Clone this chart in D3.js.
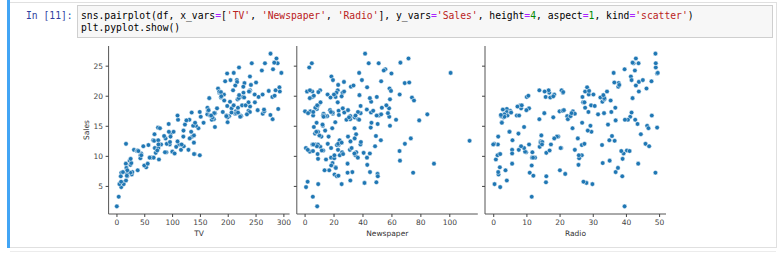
<meta charset="utf-8">
<html>
  <head>
    <style>
      body { margin: 0; background: #fff; }
      .tick text { font-family: "DejaVu Sans", sans-serif; font-size: 7.5px; fill: #444; }
      .tick line { stroke: #444; }
      .domain { stroke: #555; }
      .axisLabel { font-family: "DejaVu Sans", sans-serif; font-size: 7.5px; fill: #333; }
      .code { font-family: "DejaVu Sans Mono", monospace; font-size: 9.7px; white-space: pre; }
    </style>
  </head>
<script src="https://d3js.org/d3.v7.min.js"></script>
<div id="my_dataviz"></div>
<script>

// Advertising data (200 rows)
var tv = [230.1,44.5,17.2,151.5,180.8,8.7,57.5,120.2,8.6,199.8,66.1,214.7,23.8,97.5,204.1,195.4,67.8,281.4,69.2,147.3,
  218.4,237.4,13.2,228.3,62.3,262.9,142.9,240.1,248.8,70.6,292.9,112.9,97.2,265.6,95.7,290.7,266.9,74.7,43.1,228,
  202.5,177,293.6,206.9,25.1,175.1,89.7,239.9,227.2,66.9,199.8,100.4,216.4,182.6,262.7,198.9,7.3,136.2,210.8,210.7,
  53.5,261.3,239.3,102.7,131.1,69,31.5,139.3,237.4,216.8,199.1,109.8,26.8,129.4,213.4,16.9,27.5,120.5,5.4,116,
  76.4,239.8,75.3,68.4,213.5,193.2,76.3,110.7,88.3,109.8,134.3,28.6,217.7,250.9,107.4,163.3,197.6,184.9,289.7,135.2,
  222.4,296.4,280.2,187.9,238.2,137.9,25,90.4,13.1,255.4,225.8,241.7,175.7,209.6,78.2,75.1,139.2,76.4,125.7,19.4,
  141.3,18.8,224,123.1,229.5,87.2,7.8,80.2,220.3,59.6,0.7,265.2,8.4,219.8,36.9,48.3,25.6,273.7,43,184.9,
  73.4,193.7,220.5,104.6,96.2,140.3,240.1,243.2,38,44.7,280.7,121,197.6,171.3,187.8,4.1,93.9,149.8,11.7,131.7,
  172.5,85.7,188.4,163.5,117.2,234.5,17.9,206.8,215.4,284.3,50,164.5,19.6,168.4,222.4,276.9,248.4,170.2,276.7,165.6,
  156.6,218.5,56.2,287.6,253.8,205,139.5,191.1,286,18.7,39.5,75.5,17.2,166.8,149.7,38.2,94.2,177,283.6,232.1];

var radio = [37.8,39.3,45.9,41.3,10.8,48.9,32.8,19.6,2.1,2.6,5.8,24,35.1,7.6,32.9,47.7,36.6,39.6,20.5,23.9,
  27.7,5.1,15.9,16.9,12.6,3.5,29.3,16.7,27.1,16,28.3,17.4,1.5,20,1.4,4.1,43.8,49.4,26.7,37.7,
  22.3,33.4,27.7,8.4,25.7,22.5,9.9,41.5,15.8,11.7,3.1,9.6,41.7,46.2,28.8,49.4,28.1,19.2,49.6,29.5,
  2,42.7,15.5,29.6,42.8,9.3,24.6,14.5,27.5,43.9,30.6,14.3,33,5.7,24.6,43.7,1.6,28.5,29.9,7.7,
  26.7,4.1,20.3,44.5,43,18.4,27.5,40.6,25.5,47.8,4.9,1.5,33.5,36.5,14,31.6,3.5,21,42.3,41.7,
  4.3,36.3,10.1,17.2,34.3,46.4,11,0.3,0.4,26.9,8.2,38,15.4,20.6,46.8,35,14.3,0.8,36.9,16,
  26.8,21.7,2.4,34.6,32.3,11.8,38.9,0,49,12,39.6,2.9,27.2,33.5,38.6,47,39,28.9,25.9,43.9,
  17,35.4,33.2,5.7,14.8,1.9,7.3,49,40.3,25.8,13.9,8.4,23.3,39.7,21.1,11.6,43.5,1.3,36.9,18.4,
  18.1,35.8,18.1,36.8,14.7,3.4,37.6,5.2,23.6,10.6,11.6,20.9,20.1,7.1,3.4,48.9,30.2,7.8,2.3,10,
  2.6,5.4,5.7,43,21.3,45.1,2.1,28.7,13.9,12.1,41.1,10.8,4.1,42,35.6,3.7,4.9,9.3,42,8.6];

var newspaper = [69.2,45.1,69.3,58.5,58.4,75,23.5,11.6,1,21.2,24.2,4,65.9,7.2,46,52.9,114,55.8,18.3,19.1,
  53.4,23.5,49.6,26.2,18.3,19.5,12.6,22.9,22.9,40.8,43.2,38.6,30,0.3,7.4,8.5,5,45.7,35.1,32,
  31.6,38.7,1.8,26.4,43.3,31.5,35.7,18.5,49.9,36.8,34.6,3.6,39.6,58.7,15.9,60,41.4,16.6,37.7,9.3,
  21.4,54.7,27.3,8.4,28.9,0.9,2.2,10.2,11,27.2,38.7,31.7,19.3,31.3,13.1,89.4,20.7,14.2,9.4,23.1,
  22.3,36.9,32.5,35.6,33.8,65.7,16,63.2,73.4,51.4,9.3,33,59,72.3,10.9,52.9,5.9,22,51.2,45.9,
  49.8,100.9,21.4,17.9,5.3,59,29.7,23.2,25.6,5.5,56.5,23.2,2.4,10.7,34.5,52.7,25.6,14.8,79.2,22.3,
  46.2,50.4,15.6,12.4,74.2,25.9,50.6,9.2,3.2,43.1,8.7,43,2.1,45.1,65.6,8.5,9.3,59.7,20.5,1.7,
  12.9,75.6,37.9,34.4,38.9,9,8.7,44.3,11.9,20.6,37,48.7,14.2,37.7,9.5,5.7,50.5,24.3,45.2,34.6,
  30.7,49.3,25.6,7.4,5.4,84.8,21.6,19.4,57.6,6.4,18.4,47.4,17,12.8,13.1,41.8,20.3,35.2,23.7,17.6,
  8.3,27.4,29.7,71.8,30,19.6,26.6,18.2,3.7,23.4,5.8,6,31.6,3.6,6,13.8,8.1,6.4,66.2,8.7];

var sales = [22.1,10.4,12,16.5,17.9,7.2,11.8,13.2,4.8,15.6,12.6,17.4,9.2,13.7,19,22.4,12.5,24.4,11.3,14.6,
  18,17.5,5.6,20.5,9.7,17,15,20.9,18.9,10.5,21.4,11.9,13.2,17.4,11.9,17.8,25.4,14.7,10.1,21.5,
  16.6,17.1,20.7,17.9,8.5,16.1,10.6,23.2,19.8,9.7,16.4,10.7,22.6,21.2,20.2,23.7,5.5,13.2,23.8,18.4,
  8.1,24.2,20.7,14,16,11.3,11,13.4,18.9,22.3,18.3,12.4,8.8,11,17,8.7,6.9,14.2,5.3,11,
  11.8,17.3,11.3,13.6,21.7,20.2,12,16,12.9,16.7,14,7.3,19.4,22.2,11.5,16.9,16.7,20.5,25.4,17.2,
  16.7,23.8,19.8,19.7,20.7,15,7.2,12,5.3,19.8,18.4,21.8,17.1,20.9,14.6,12.6,12.2,9.4,15.9,6.6,
  15.5,7,16.6,15.2,19.7,10.6,6.6,11.9,24.7,9.7,1.6,17.7,5.7,19.6,10.8,11.6,9.5,20.8,9.6,20.7,
  10.9,19.2,20.1,10.4,12.3,10.3,18.2,25.4,10.9,10.1,16.1,11.6,16.6,16,20.6,3.2,15.3,10.1,7.3,12.9,
  16.4,13.3,19.9,18,11.9,16.9,8,17.2,17.1,20,8.4,17.5,7.6,16.7,16.5,27,20.2,16.7,16.8,17.6,
  15.5,17.2,8.7,26.2,17.6,22.6,10.3,17.3,20.9,6.7,10.8,11.9,5.9,19.6,17.3,7.6,14,14.8,25.5,18.4];

// panels and tick labels
var xVars = ["TV", "Newspaper", "Radio"];
var xValues = [tv, newspaper, radio];
var xTicks = [[0, 50, 100, 150, 200, 250, 300], [0, 20, 40, 60, 80, 100], [0, 10, 20, 30, 40, 50]];
var yTicks = [5, 10, 15, 20, 25];

var width = 784, height = 253;

var svg = d3.select("#my_dataviz")
  .append("svg")
    .attr("width", width)
    .attr("height", height)
    .style("display", "block");

svg.append("rect").attr("width", width).attr("height", height).attr("fill", "#fff");

// notebook cell frame
svg.append("rect")
  .attr("x", 8.5).attr("y", 2.5)
  .attr("width", 768).attr("height", 245)
  .attr("fill", "none").attr("stroke", "#e0e0e0");
svg.append("line")
  .attr("x1", 10).attr("x2", 776).attr("y1", 251.5).attr("y2", 251.5)
  .attr("stroke", "#ececec");
svg.append("rect")
  .attr("x", 7).attr("y", 0)
  .attr("width", 3).attr("height", 248)
  .attr("fill", "#42A5F5");

// input prompt + code box
svg.append("text")
  .attr("class", "code")
  .attr("x", 26).attr("y", 19)
  .attr("fill", "#303F9F")
  .text("In [11]:");

svg.append("rect")
  .attr("x", 77.5).attr("y", 5.5)
  .attr("width", 695).attr("height", 32)
  .attr("fill", "#f7f7f7").attr("stroke", "#cfcfcf");

var black = "#000", op = "#AA22FF", str = "#BA2121", num = "#008800";
var codeLine1 = [
  ["sns.pairplot(df, x_vars", black], ["=", op], ["[", black], ["'TV'", str], [", ", black],
  ["'Newspaper'", str], [", ", black], ["'Radio'", str], ["], y_vars", black], ["=", op],
  ["'Sales'", str], [", height", black], ["=", op], ["4", num], [", aspect", black], ["=", op],
  ["1", num], [", kind", black], ["=", op], ["'scatter'", str], [")", black]
];
var codeLine2 = [["plt.pyplot.show()", black]];

[codeLine1, codeLine2].forEach(function(line, i) {
  var t = svg.append("text")
    .attr("class", "code")
    .attr("x", 81)
    .attr("y", 19 + i * 12);
  t.selectAll("tspan")
    .data(line)
    .enter()
    .append("tspan")
      .attr("fill", function(d) { return d[1]; })
      .text(function(d) { return d[0]; });
});

// shared y scale (Sales)
var yExtent = d3.extent(sales);
var yPad = (yExtent[1] - yExtent[0]) * 0.05;
var y = d3.scaleLinear()
  .domain([yExtent[0] - yPad, yExtent[1] + yPad])
  .range([214, 46]);

var panelLeft = 108.6, panelWidth = 181, panelStep = 188.2;

xVars.forEach(function(name, i) {
  var vals = xValues[i];
  var left = panelLeft + i * panelStep;
  var ext = d3.extent(vals);
  var pad = (ext[1] - ext[0]) * 0.05;
  var x = d3.scaleLinear()
    .domain([ext[0] - pad, ext[1] + pad])
    .range([left, left + panelWidth]);

  // x axis
  svg.append("g")
    .attr("transform", "translate(0,214)")
    .call(d3.axisBottom(x).tickValues(xTicks[i]).tickSize(3).tickPadding(2.5))
    .call(function(g) { g.select(".domain").attr("d", "M" + left + ",0H" + (left + panelWidth)); });

  // y axis
  svg.append("g")
    .attr("transform", "translate(" + left + ",0)")
    .call(d3.axisLeft(y).tickValues(yTicks).tickSize(3).tickPadding(2.5)
      .tickFormat(i === 0 ? d3.format("d") : function() { return ""; }))
    .call(function(g) { g.select(".domain").attr("d", "M0,46V214"); });

  svg.append("text")
    .attr("class", "axisLabel")
    .attr("x", left + panelWidth / 2)
    .attr("y", 236)
    .style("text-anchor", "middle")
    .text(name);

  svg.append("g")
    .selectAll("circle")
    .data(vals)
    .enter()
    .append("circle")
      .attr("cx", function(d) { return x(d); })
      .attr("cy", function(d, j) { return y(sales[j]); })
      .attr("r", 2.3)
      .attr("fill", "#1f77b4")
      .attr("stroke", "#fff")
      .attr("stroke-width", 0.5);
});

svg.append("text")
  .attr("class", "axisLabel")
  .attr("transform", "translate(89,130) rotate(-90)")
  .style("text-anchor", "middle")
  .text("Sales");

</script>
</html>
